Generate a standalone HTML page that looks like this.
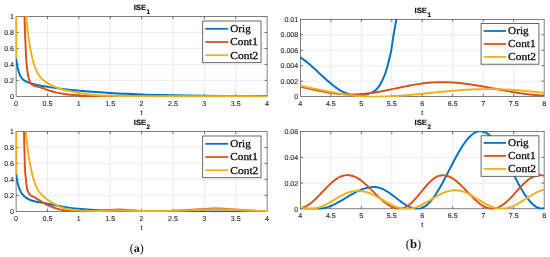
<!DOCTYPE html>
<html><head><meta charset="utf-8"><title>ISE plots</title>
<style>
html,body{margin:0;padding:0;background:#fff;}
svg{display:block;filter:blur(0.35px);}
text{text-rendering:geometricPrecision;}
</style></head><body>
<svg width="550" height="257" viewBox="0 0 550 257">
<rect width="550" height="257" fill="#fff"/>
<g>
<clipPath id="c1"><rect x="15.85" y="16.15" width="252.00" height="81.00"/></clipPath>
<path d="M47.48 16.50 V96.35 M78.85 16.50 V96.35 M110.23 16.50 V96.35 M141.60 16.50 V96.35 M172.98 16.50 V96.35 M204.35 16.50 V96.35 M235.73 16.50 V96.35 M16.10 80.38 H267.10 M16.10 64.41 H267.10 M16.10 48.44 H267.10 M16.10 32.47 H267.10" stroke="#e4e4e4" stroke-width="0.75" fill="none"/>
<rect x="16.10" y="16.50" width="251.00" height="79.85" fill="none" stroke="#3c3c3c" stroke-width="0.65"/>
<path d="M47.48 96.35 v-2.60 M47.48 16.50 v2.60 M78.85 96.35 v-2.60 M78.85 16.50 v2.60 M110.23 96.35 v-2.60 M110.23 16.50 v2.60 M141.60 96.35 v-2.60 M141.60 16.50 v2.60 M172.98 96.35 v-2.60 M172.98 16.50 v2.60 M204.35 96.35 v-2.60 M204.35 16.50 v2.60 M235.73 96.35 v-2.60 M235.73 16.50 v2.60 M16.10 80.38 h2.60 M267.10 80.38 h-2.60 M16.10 64.41 h2.60 M267.10 64.41 h-2.60 M16.10 48.44 h2.60 M267.10 48.44 h-2.60 M16.10 32.47 h2.60 M267.10 32.47 h-2.60" stroke="#3c3c3c" stroke-width="0.7" fill="none"/>
<g clip-path="url(#c1)" fill="none" stroke-width="1.95" stroke-linejoin="round" stroke-linecap="butt">
<path d="M16.15 58.70 C16.44 60.43 17.17 66.18 17.90 69.09 C18.62 72.00 19.48 74.31 20.50 76.16 C21.52 78.01 22.54 79.07 24.00 80.20 C25.46 81.33 27.21 82.17 29.25 82.92 C31.29 83.68 33.19 84.10 36.25 84.74 C39.31 85.38 43.23 86.05 47.60 86.76 C51.98 87.47 57.10 88.31 62.50 88.98 C67.90 89.65 72.08 90.12 80.00 90.80 C87.92 91.47 99.83 92.41 110.00 93.02 C120.17 93.62 131.00 94.08 141.00 94.43 C151.00 94.79 159.50 94.92 170.00 95.14 C180.50 95.36 193.17 95.61 204.00 95.74 C214.83 95.88 224.50 95.90 235.00 95.95 C245.50 96.00 261.67 96.03 267.00 96.05" stroke="#0072BD"/>
<path d="M16.15 58.70 L16.15 10.00 L24.40 10.00 L24.50 16.50  C24.57 18.77 24.72 25.16 24.90 30.13 C25.08 35.09 25.38 41.57 25.60 46.28 C25.82 50.99 25.98 55.03 26.20 58.39 C26.42 61.76 26.65 64.03 26.90 66.47 C27.15 68.91 27.37 70.98 27.70 73.03 C28.03 75.08 28.50 77.22 28.90 78.79 C29.30 80.35 29.68 81.49 30.10 82.42 C30.52 83.34 30.92 83.87 31.40 84.34 C31.88 84.81 32.40 84.98 33.00 85.25 C33.60 85.51 34.25 85.72 35.00 85.95 C35.75 86.19 36.12 86.27 37.50 86.66 C38.88 87.05 41.62 87.72 43.30 88.27 C44.98 88.83 45.57 89.30 47.60 89.99 C49.63 90.68 52.43 91.69 55.50 92.41 C58.57 93.14 61.92 93.81 66.00 94.33 C70.08 94.85 74.33 95.24 80.00 95.54 C85.67 95.85 68.83 96.01 100.00 96.15 C131.17 96.28 239.17 96.32 267.00 96.35" stroke="#D95319"/>
<path d="M16.15 58.70 L16.15 10.00 L25.90 10.00 L26.30 16.50  C26.45 18.10 26.93 23.45 27.20 26.09 C27.47 28.73 27.37 28.58 27.90 32.35 C28.43 36.12 29.62 44.19 30.40 48.70 C31.18 53.21 31.77 56.15 32.60 59.40 C33.43 62.66 34.35 65.59 35.40 68.24 C36.45 70.89 37.59 73.34 38.90 75.30 C40.21 77.26 41.80 78.69 43.25 80.00 C44.70 81.30 45.85 82.07 47.60 83.13 C49.35 84.19 51.27 85.30 53.75 86.36 C56.23 87.42 59.58 88.64 62.50 89.49 C65.42 90.33 68.33 90.78 71.25 91.40 C74.17 92.03 76.04 92.63 80.00 93.22 C83.96 93.81 90.00 94.52 95.00 94.94 C100.00 95.36 104.17 95.54 110.00 95.74 C115.83 95.95 103.83 96.05 130.00 96.15 C156.17 96.25 244.17 96.32 267.00 96.35" stroke="#EDB120"/>
</g>
<g font-family="'Liberation Sans', Arial, sans-serif" font-size="7.1" fill="#242424" stroke="#242424" stroke-width="0.1">
<text x="16.10" y="105.70" text-anchor="middle">0</text>
<text x="47.48" y="105.70" text-anchor="middle">0.5</text>
<text x="78.85" y="105.70" text-anchor="middle">1</text>
<text x="110.23" y="105.70" text-anchor="middle">1.5</text>
<text x="141.60" y="105.70" text-anchor="middle">2</text>
<text x="172.98" y="105.70" text-anchor="middle">2.5</text>
<text x="204.35" y="105.70" text-anchor="middle">3</text>
<text x="235.73" y="105.70" text-anchor="middle">3.5</text>
<text x="267.10" y="105.70" text-anchor="middle">4</text>
<text x="14.00" y="99.05" text-anchor="end">0</text>
<text x="14.00" y="83.08" text-anchor="end">0.2</text>
<text x="14.00" y="67.11" text-anchor="end">0.4</text>
<text x="14.00" y="51.14" text-anchor="end">0.6</text>
<text x="14.00" y="35.17" text-anchor="end">0.8</text>
<text x="14.00" y="19.20" text-anchor="end">1</text>
<text x="141.60" y="115.00" text-anchor="middle">t</text>
</g>
<text x="133.70" y="10.10" font-family="'Liberation Sans', Arial, sans-serif" font-weight="bold" font-size="7.7" fill="#111" stroke="#111" stroke-width="0.15">ISE<tspan font-size="6.4" dx="0.4" dy="3.5">1</tspan></text>
<rect x="202.70" y="21.00" width="58.30" height="41.70" fill="#fff" stroke="#444" stroke-width="0.8"/>
<path d="M205.30 28.80 H228.20" stroke="#0072BD" stroke-width="1.75"/>
<text x="230.30" y="32.10" font-family="'Liberation Serif', 'DejaVu Serif', serif" font-size="10.6" fill="#0d0d0d" stroke="#0d0d0d" stroke-width="0.28" textLength="20.5" lengthAdjust="spacingAndGlyphs">Orig</text>
<path d="M205.30 42.00 H228.20" stroke="#D95319" stroke-width="1.75"/>
<text x="230.30" y="45.30" font-family="'Liberation Serif', 'DejaVu Serif', serif" font-size="10.6" fill="#0d0d0d" stroke="#0d0d0d" stroke-width="0.28" textLength="27.5" lengthAdjust="spacingAndGlyphs">Cont1</text>
<path d="M205.30 55.20 H228.20" stroke="#EDB120" stroke-width="1.75"/>
<text x="230.30" y="58.50" font-family="'Liberation Serif', 'DejaVu Serif', serif" font-size="10.6" fill="#0d0d0d" stroke="#0d0d0d" stroke-width="0.28" textLength="28.0" lengthAdjust="spacingAndGlyphs">Cont2</text>
</g>
<g>
<clipPath id="c2"><rect x="15.85" y="131.15" width="252.00" height="81.00"/></clipPath>
<path d="M47.48 131.50 V211.35 M78.85 131.50 V211.35 M110.23 131.50 V211.35 M141.60 131.50 V211.35 M172.98 131.50 V211.35 M204.35 131.50 V211.35 M235.73 131.50 V211.35 M16.10 195.38 H267.10 M16.10 179.41 H267.10 M16.10 163.44 H267.10 M16.10 147.47 H267.10" stroke="#e4e4e4" stroke-width="0.75" fill="none"/>
<rect x="16.10" y="131.50" width="251.00" height="79.85" fill="none" stroke="#3c3c3c" stroke-width="0.65"/>
<path d="M47.48 211.35 v-2.60 M47.48 131.50 v2.60 M78.85 211.35 v-2.60 M78.85 131.50 v2.60 M110.23 211.35 v-2.60 M110.23 131.50 v2.60 M141.60 211.35 v-2.60 M141.60 131.50 v2.60 M172.98 211.35 v-2.60 M172.98 131.50 v2.60 M204.35 211.35 v-2.60 M204.35 131.50 v2.60 M235.73 211.35 v-2.60 M235.73 131.50 v2.60 M16.10 195.38 h2.60 M267.10 195.38 h-2.60 M16.10 179.41 h2.60 M267.10 179.41 h-2.60 M16.10 163.44 h2.60 M267.10 163.44 h-2.60 M16.10 147.47 h2.60 M267.10 147.47 h-2.60" stroke="#3c3c3c" stroke-width="0.7" fill="none"/>
<g clip-path="url(#c2)" fill="none" stroke-width="1.95" stroke-linejoin="round" stroke-linecap="butt">
<path d="M16.15 174.19 C16.39 175.61 16.88 179.85 17.60 182.72 C18.33 185.60 19.52 189.34 20.50 191.46 C21.48 193.59 22.33 194.28 23.50 195.48 C24.67 196.69 26.17 197.86 27.50 198.69 C28.83 199.53 29.83 199.95 31.50 200.50 C33.17 201.05 35.25 201.56 37.50 202.01 C39.75 202.46 41.93 202.65 45.00 203.21 C48.07 203.78 52.27 204.73 55.90 205.42 C59.53 206.12 63.17 206.83 66.80 207.38 C70.43 207.94 74.07 208.38 77.70 208.74 C81.33 209.10 84.97 209.31 88.60 209.54 C92.23 209.78 94.27 209.96 99.50 210.14 C104.73 210.33 113.08 210.53 120.00 210.65 C126.92 210.76 132.67 210.80 141.00 210.85 C149.33 210.90 161.83 210.91 170.00 210.95 C178.17 210.98 184.17 210.98 190.00 211.05 C195.83 211.12 200.00 211.28 205.00 211.35 C210.00 211.42 215.00 211.45 220.00 211.45 C225.00 211.45 230.00 211.42 235.00 211.35 C240.00 211.28 244.67 211.12 250.00 211.05 C255.33 210.98 264.17 210.96 267.00 210.95" stroke="#0072BD"/>
<path d="M16.15 174.19 L16.15 125.00 L23.70 125.00 L24.00 131.50  C24.15 137.44 24.61 159.46 24.90 167.16 C25.19 174.86 25.40 174.19 25.75 177.70 C26.10 181.22 26.48 185.61 27.00 188.25 C27.52 190.89 28.23 192.29 28.90 193.52 C29.57 194.75 29.77 194.84 31.00 195.63 C32.23 196.43 34.50 197.30 36.25 198.29 C38.00 199.29 40.04 200.69 41.50 201.61 C42.96 202.53 43.50 203.03 45.00 203.82 C46.50 204.60 48.68 205.57 50.50 206.33 C52.32 207.08 54.08 207.75 55.90 208.34 C57.72 208.92 59.58 209.46 61.40 209.84 C63.22 210.23 64.08 210.41 66.80 210.65 C69.52 210.88 74.07 211.15 77.70 211.25 C81.33 211.35 84.97 211.32 88.60 211.25 C92.23 211.18 96.27 211.02 99.50 210.85 C102.73 210.68 104.75 210.46 108.00 210.25 C111.25 210.03 115.33 209.56 119.00 209.54 C122.67 209.53 126.33 209.93 130.00 210.14 C133.67 210.36 136.00 210.70 141.00 210.85 C146.00 211.00 153.50 211.12 160.00 211.05 C166.50 210.98 173.33 210.75 180.00 210.45 C186.67 210.14 194.17 209.56 200.00 209.24 C205.83 208.92 210.00 208.55 215.00 208.54 C220.00 208.52 224.17 208.81 230.00 209.14 C235.83 209.48 243.83 210.23 250.00 210.55 C256.17 210.86 264.17 210.96 267.00 211.05" stroke="#D95319"/>
<path d="M16.15 174.19 L16.15 125.00 L25.20 125.00 L25.75 131.50  C26.04 134.18 26.81 142.23 27.50 147.57 C28.19 152.91 29.03 158.81 29.90 163.54 C30.77 168.27 31.78 172.41 32.70 175.94 C33.62 179.48 34.35 182.10 35.40 184.73 C36.45 187.37 37.67 189.84 39.00 191.76 C40.33 193.69 42.40 195.28 43.40 196.28 C44.40 197.29 43.82 196.90 45.00 197.79 C46.18 198.68 48.68 200.44 50.50 201.61 C52.32 202.78 54.08 203.87 55.90 204.82 C57.72 205.78 59.58 206.65 61.40 207.33 C63.22 208.02 64.08 208.44 66.80 208.94 C69.52 209.44 74.07 210.03 77.70 210.35 C81.33 210.66 84.88 210.75 88.60 210.85 C92.32 210.95 94.93 211.00 100.00 210.95 C105.07 210.90 112.17 210.55 119.00 210.55 C125.83 210.55 134.17 210.86 141.00 210.95 C147.83 211.03 153.50 211.10 160.00 211.05 C166.50 211.00 173.33 210.86 180.00 210.65 C186.67 210.43 194.17 209.98 200.00 209.74 C205.83 209.51 210.00 209.27 215.00 209.24 C220.00 209.21 224.17 209.32 230.00 209.54 C235.83 209.76 243.83 210.31 250.00 210.55 C256.17 210.78 264.17 210.88 267.00 210.95" stroke="#EDB120"/>
</g>
<g font-family="'Liberation Sans', Arial, sans-serif" font-size="7.1" fill="#242424" stroke="#242424" stroke-width="0.1">
<text x="16.10" y="220.90" text-anchor="middle">0</text>
<text x="47.48" y="220.90" text-anchor="middle">0.5</text>
<text x="78.85" y="220.90" text-anchor="middle">1</text>
<text x="110.23" y="220.90" text-anchor="middle">1.5</text>
<text x="141.60" y="220.90" text-anchor="middle">2</text>
<text x="172.98" y="220.90" text-anchor="middle">2.5</text>
<text x="204.35" y="220.90" text-anchor="middle">3</text>
<text x="235.73" y="220.90" text-anchor="middle">3.5</text>
<text x="267.10" y="220.90" text-anchor="middle">4</text>
<text x="14.00" y="214.05" text-anchor="end">0</text>
<text x="14.00" y="198.08" text-anchor="end">0.2</text>
<text x="14.00" y="182.11" text-anchor="end">0.4</text>
<text x="14.00" y="166.14" text-anchor="end">0.6</text>
<text x="14.00" y="150.17" text-anchor="end">0.8</text>
<text x="14.00" y="134.20" text-anchor="end">1</text>
<text x="141.60" y="230.20" text-anchor="middle">t</text>
</g>
<text x="133.80" y="125.10" font-family="'Liberation Sans', Arial, sans-serif" font-weight="bold" font-size="7.7" fill="#111" stroke="#111" stroke-width="0.15">ISE<tspan font-size="6.4" dx="0.4" dy="3.5">2</tspan></text>
<rect x="202.70" y="136.00" width="58.30" height="41.70" fill="#fff" stroke="#444" stroke-width="0.8"/>
<path d="M205.30 143.80 H228.20" stroke="#0072BD" stroke-width="1.75"/>
<text x="230.30" y="147.10" font-family="'Liberation Serif', 'DejaVu Serif', serif" font-size="10.6" fill="#0d0d0d" stroke="#0d0d0d" stroke-width="0.28" textLength="20.5" lengthAdjust="spacingAndGlyphs">Orig</text>
<path d="M205.30 157.00 H228.20" stroke="#D95319" stroke-width="1.75"/>
<text x="230.30" y="160.30" font-family="'Liberation Serif', 'DejaVu Serif', serif" font-size="10.6" fill="#0d0d0d" stroke="#0d0d0d" stroke-width="0.28" textLength="27.5" lengthAdjust="spacingAndGlyphs">Cont1</text>
<path d="M205.30 170.20 H228.20" stroke="#EDB120" stroke-width="1.75"/>
<text x="230.30" y="173.50" font-family="'Liberation Serif', 'DejaVu Serif', serif" font-size="10.6" fill="#0d0d0d" stroke="#0d0d0d" stroke-width="0.28" textLength="28.0" lengthAdjust="spacingAndGlyphs">Cont2</text>
</g>
<g>
<clipPath id="c3"><rect x="300.10" y="18.95" width="244.80" height="78.50"/></clipPath>
<path d="M330.83 19.30 V96.65 M361.30 19.30 V96.65 M391.77 19.30 V96.65 M422.25 19.30 V96.65 M452.73 19.30 V96.65 M483.20 19.30 V96.65 M513.67 19.30 V96.65 M300.35 81.18 H544.15 M300.35 65.71 H544.15 M300.35 50.24 H544.15 M300.35 34.77 H544.15" stroke="#e4e4e4" stroke-width="0.75" fill="none"/>
<rect x="300.35" y="19.30" width="243.80" height="77.35" fill="none" stroke="#3c3c3c" stroke-width="0.65"/>
<path d="M330.83 96.65 v-2.60 M330.83 19.30 v2.60 M361.30 96.65 v-2.60 M361.30 19.30 v2.60 M391.77 96.65 v-2.60 M391.77 19.30 v2.60 M422.25 96.65 v-2.60 M422.25 19.30 v2.60 M452.73 96.65 v-2.60 M452.73 19.30 v2.60 M483.20 96.65 v-2.60 M483.20 19.30 v2.60 M513.67 96.65 v-2.60 M513.67 19.30 v2.60 M300.35 81.18 h2.60 M544.15 81.18 h-2.60 M300.35 65.71 h2.60 M544.15 65.71 h-2.60 M300.35 50.24 h2.60 M544.15 50.24 h-2.60 M300.35 34.77 h2.60 M544.15 34.77 h-2.60" stroke="#3c3c3c" stroke-width="0.7" fill="none"/>
<g clip-path="url(#c3)" fill="none" stroke-width="1.95" stroke-linejoin="round" stroke-linecap="butt">
<path d="M300.35 57.30 C300.55 57.44 301.16 57.84 301.57 58.12 C301.98 58.40 302.38 58.69 302.79 58.98 C303.19 59.27 303.60 59.57 304.01 59.87 C304.41 60.18 304.82 60.49 305.23 60.80 C305.63 61.12 306.04 61.44 306.44 61.77 C306.85 62.09 307.26 62.42 307.66 62.76 C308.07 63.09 308.48 63.44 308.88 63.78 C309.29 64.12 309.70 64.47 310.10 64.83 C310.51 65.18 310.91 65.53 311.32 65.89 C311.73 66.25 312.13 66.62 312.54 66.98 C312.95 67.35 313.35 67.71 313.76 68.08 C314.17 68.45 314.57 68.83 314.98 69.20 C315.38 69.58 315.79 69.95 316.20 70.33 C316.60 70.71 317.01 71.08 317.42 71.46 C317.82 71.84 318.23 72.22 318.63 72.60 C319.04 72.98 319.45 73.36 319.85 73.74 C320.26 74.13 320.67 74.51 321.07 74.88 C321.48 75.26 321.89 75.64 322.29 76.02 C322.70 76.40 323.10 76.77 323.51 77.15 C323.92 77.52 324.32 77.89 324.73 78.26 C325.14 78.63 325.54 79.00 325.95 79.37 C326.36 79.73 326.76 80.10 327.17 80.46 C327.57 80.81 327.98 81.17 328.39 81.52 C328.79 81.88 329.20 82.22 329.61 82.57 C330.01 82.91 330.42 83.25 330.83 83.59 C331.23 83.92 331.64 84.26 332.04 84.58 C332.45 84.91 332.86 85.23 333.26 85.55 C333.67 85.86 334.08 86.17 334.48 86.48 C334.89 86.78 335.29 87.08 335.70 87.37 C336.11 87.66 336.51 87.95 336.92 88.23 C337.33 88.51 337.73 88.78 338.14 89.04 C338.55 89.31 338.95 89.57 339.36 89.82 C339.76 90.07 340.17 90.31 340.58 90.55 C340.98 90.79 341.39 91.02 341.80 91.24 C342.20 91.46 342.61 91.67 343.02 91.87 C343.42 92.08 343.83 92.27 344.23 92.46 C344.64 92.65 345.05 92.83 345.45 93.00 C345.86 93.17 346.27 93.33 346.67 93.48 C347.08 93.63 347.48 93.78 347.89 93.91 C348.30 94.04 348.70 94.17 349.11 94.29 C349.52 94.40 349.92 94.51 350.33 94.60 C350.74 94.70 351.14 94.79 351.55 94.87 C351.95 94.94 352.36 95.01 352.77 95.07 C353.17 95.13 353.58 95.18 353.99 95.22 C354.39 95.26 354.80 95.29 355.21 95.31 C355.61 95.33 355.09 95.40 356.42 95.34 C357.76 95.27 361.07 95.20 363.20 94.89 C365.33 94.59 367.47 94.02 369.20 93.49 C370.93 92.95 372.13 92.65 373.60 91.68 C375.07 90.71 376.63 89.37 378.00 87.67 C379.37 85.96 380.55 83.93 381.80 81.44 C383.05 78.95 384.45 75.64 385.50 72.71 C386.55 69.78 387.32 66.80 388.10 63.87 C388.88 60.94 389.67 57.43 390.20 55.14 C390.73 52.85 390.72 53.60 391.30 50.12 C391.88 46.64 392.86 39.38 393.70 34.26 C394.54 29.14 395.63 23.44 396.35 19.40 C397.07 15.36 397.73 11.57 398.00 10.00" stroke="#0072BD"/>
<path d="M300.35 86.65 C300.60 86.71 301.37 86.88 301.87 86.99 C302.38 87.10 302.89 87.21 303.40 87.33 C303.91 87.44 304.41 87.55 304.92 87.67 C305.43 87.78 305.94 87.90 306.44 88.01 C306.95 88.13 307.46 88.24 307.97 88.36 C308.48 88.47 308.98 88.59 309.49 88.70 C310.00 88.81 310.51 88.93 311.02 89.04 C311.52 89.16 312.03 89.27 312.54 89.38 C313.05 89.49 313.56 89.61 314.06 89.72 C314.57 89.83 315.08 89.94 315.59 90.05 C316.10 90.16 316.60 90.27 317.11 90.38 C317.62 90.48 318.13 90.59 318.63 90.70 C319.14 90.80 319.65 90.91 320.16 91.01 C320.67 91.11 321.17 91.21 321.68 91.31 C322.19 91.41 322.70 91.51 323.21 91.61 C323.71 91.70 324.22 91.80 324.73 91.89 C325.24 91.98 325.75 92.07 326.25 92.16 C326.76 92.25 327.27 92.34 327.78 92.42 C328.29 92.51 328.79 92.59 329.30 92.67 C329.81 92.75 330.32 92.83 330.83 92.91 C331.33 92.98 331.84 93.06 332.35 93.13 C332.86 93.20 333.36 93.27 333.87 93.34 C334.38 93.40 334.89 93.47 335.40 93.53 C335.90 93.59 336.41 93.65 336.92 93.70 C337.43 93.76 337.94 93.81 338.44 93.86 C338.95 93.91 339.46 93.96 339.97 94.00 C340.48 94.04 340.98 94.09 341.49 94.12 C342.00 94.16 342.51 94.20 343.02 94.23 C343.52 94.26 344.03 94.29 344.54 94.32 C345.05 94.34 345.55 94.37 346.06 94.39 C346.57 94.41 347.08 94.42 347.59 94.44 C348.09 94.45 348.60 94.46 349.11 94.47 C349.62 94.48 350.13 94.48 350.63 94.48 C351.14 94.49 351.65 94.48 352.16 94.48 C352.67 94.47 353.17 94.47 353.68 94.46 C354.19 94.45 354.70 94.43 355.21 94.42 C355.71 94.40 356.22 94.38 356.73 94.36 C357.24 94.34 357.74 94.31 358.25 94.29 C358.76 94.26 359.27 94.23 359.78 94.20 C360.28 94.16 360.79 94.13 361.30 94.09 C361.81 94.05 362.32 94.01 362.82 93.96 C363.33 93.92 363.84 93.87 364.35 93.83 C364.86 93.78 365.36 93.73 365.87 93.67 C366.38 93.62 366.89 93.56 367.39 93.50 C367.90 93.44 368.41 93.38 368.92 93.32 C369.43 93.25 369.93 93.19 370.44 93.12 C370.95 93.05 371.46 92.98 371.97 92.91 C372.47 92.83 372.98 92.76 373.49 92.68 C374.00 92.61 374.51 92.53 375.01 92.45 C375.52 92.37 376.03 92.28 376.54 92.20 C377.05 92.11 377.55 92.03 378.06 91.94 C378.57 91.85 379.08 91.76 379.58 91.67 C380.09 91.58 380.60 91.49 381.11 91.39 C381.62 91.30 382.12 91.20 382.63 91.10 C383.14 91.01 383.65 90.91 384.16 90.81 C384.66 90.71 385.17 90.61 385.68 90.51 C386.19 90.40 386.70 90.30 387.20 90.20 C387.71 90.09 388.22 89.99 388.73 89.88 C389.24 89.78 389.74 89.67 390.25 89.57 C390.76 89.46 391.27 89.35 391.77 89.25 C392.28 89.14 392.79 89.03 393.30 88.92 C393.81 88.81 394.31 88.70 394.82 88.60 C395.33 88.49 395.84 88.38 396.35 88.27 C396.85 88.16 397.36 88.05 397.87 87.94 C398.38 87.84 398.89 87.73 399.39 87.62 C399.90 87.51 400.41 87.40 400.92 87.30 C401.43 87.19 401.93 87.08 402.44 86.98 C402.95 86.87 403.46 86.76 403.97 86.66 C404.47 86.55 404.98 86.45 405.49 86.35 C406.00 86.25 406.50 86.14 407.01 86.04 C407.52 85.94 408.03 85.84 408.54 85.74 C409.04 85.64 409.55 85.55 410.06 85.45 C410.57 85.35 411.08 85.26 411.58 85.17 C412.09 85.07 412.60 84.98 413.11 84.89 C413.62 84.80 414.12 84.71 414.63 84.63 C415.14 84.54 415.65 84.45 416.16 84.37 C416.66 84.29 417.17 84.21 417.68 84.13 C418.19 84.05 418.69 83.97 419.20 83.90 C419.71 83.82 420.22 83.75 420.73 83.68 C421.23 83.60 421.74 83.54 422.25 83.47 C422.76 83.40 423.27 83.34 423.77 83.28 C424.28 83.22 424.79 83.16 425.30 83.10 C425.81 83.04 426.31 82.99 426.82 82.93 C427.33 82.88 427.84 82.83 428.34 82.79 C428.85 82.74 429.36 82.70 429.87 82.65 C430.38 82.61 430.88 82.57 431.39 82.54 C431.90 82.50 432.41 82.47 432.92 82.44 C433.42 82.41 433.93 82.38 434.44 82.35 C434.95 82.33 435.46 82.30 435.96 82.29 C436.47 82.27 436.98 82.25 437.49 82.24 C438.00 82.22 438.50 82.21 439.01 82.20 C439.52 82.19 440.03 82.19 440.53 82.19 C441.04 82.18 441.55 82.19 442.06 82.19 C442.57 82.19 443.07 82.20 443.58 82.20 C444.09 82.21 444.60 82.22 445.11 82.23 C445.61 82.24 446.12 82.25 446.63 82.27 C447.14 82.28 447.65 82.30 448.15 82.32 C448.66 82.34 449.17 82.36 449.68 82.39 C450.19 82.41 450.69 82.43 451.20 82.46 C451.71 82.49 452.22 82.52 452.73 82.55 C453.23 82.58 453.74 82.62 454.25 82.65 C454.76 82.69 455.26 82.73 455.77 82.77 C456.28 82.81 456.79 82.85 457.30 82.89 C457.80 82.94 458.31 82.98 458.82 83.03 C459.33 83.08 459.84 83.13 460.34 83.18 C460.85 83.23 461.36 83.28 461.87 83.34 C462.38 83.39 462.88 83.45 463.39 83.51 C463.90 83.56 464.41 83.62 464.91 83.69 C465.42 83.75 465.93 83.81 466.44 83.87 C466.95 83.94 467.45 84.01 467.96 84.07 C468.47 84.14 468.98 84.21 469.49 84.28 C469.99 84.35 470.50 84.43 471.01 84.50 C471.52 84.57 472.03 84.65 472.53 84.73 C473.04 84.80 473.55 84.88 474.06 84.96 C474.57 85.04 475.07 85.12 475.58 85.20 C476.09 85.28 476.60 85.37 477.11 85.45 C477.61 85.53 478.12 85.62 478.63 85.70 C479.14 85.79 479.64 85.88 480.15 85.97 C480.66 86.05 481.17 86.14 481.68 86.23 C482.18 86.32 482.69 86.41 483.20 86.50 C483.71 86.59 484.22 86.69 484.72 86.78 C485.23 86.87 485.74 86.97 486.25 87.06 C486.76 87.15 487.26 87.25 487.77 87.34 C488.28 87.44 488.79 87.53 489.29 87.63 C489.80 87.73 490.31 87.82 490.82 87.92 C491.33 88.02 491.83 88.11 492.34 88.21 C492.85 88.31 493.36 88.41 493.87 88.50 C494.37 88.60 494.88 88.70 495.39 88.80 C495.90 88.90 496.41 88.99 496.91 89.09 C497.42 89.19 497.93 89.29 498.44 89.38 C498.95 89.48 499.45 89.58 499.96 89.68 C500.47 89.77 500.98 89.87 501.49 89.97 C501.99 90.06 502.50 90.16 503.01 90.26 C503.52 90.35 504.02 90.45 504.53 90.54 C505.04 90.64 505.55 90.73 506.06 90.83 C506.56 90.92 507.07 91.01 507.58 91.11 C508.09 91.20 508.60 91.29 509.10 91.38 C509.61 91.47 510.12 91.56 510.63 91.65 C511.14 91.74 511.64 91.83 512.15 91.92 C512.66 92.01 513.17 92.09 513.67 92.18 C514.18 92.26 514.69 92.35 515.20 92.43 C515.71 92.51 516.21 92.60 516.72 92.68 C517.23 92.76 517.74 92.84 518.25 92.92 C518.75 93.00 519.26 93.07 519.77 93.15 C520.28 93.23 520.79 93.30 521.29 93.37 C521.80 93.45 522.31 93.52 522.82 93.59 C523.33 93.66 523.83 93.73 524.34 93.80 C524.85 93.86 525.36 93.93 525.87 93.99 C526.37 94.06 526.88 94.12 527.39 94.18 C527.90 94.24 528.40 94.30 528.91 94.36 C529.42 94.42 529.93 94.47 530.44 94.53 C530.94 94.58 531.45 94.63 531.96 94.68 C532.47 94.73 532.98 94.78 533.48 94.83 C533.99 94.88 534.50 94.92 535.01 94.96 C535.52 95.01 536.02 95.05 536.53 95.09 C537.04 95.13 537.55 95.16 538.06 95.20 C538.56 95.23 539.07 95.27 539.58 95.30 C540.09 95.33 540.59 95.36 541.10 95.38 C541.61 95.41 542.12 95.44 542.63 95.46 C543.13 95.48 543.90 95.51 544.15 95.52" stroke="#D95319"/>
<path d="M300.35 85.81 C300.60 85.86 301.37 86.00 301.87 86.10 C302.38 86.20 302.89 86.30 303.40 86.40 C303.91 86.50 304.41 86.61 304.92 86.71 C305.43 86.81 305.94 86.91 306.44 87.02 C306.95 87.12 307.46 87.22 307.97 87.33 C308.48 87.43 308.98 87.54 309.49 87.64 C310.00 87.75 310.51 87.85 311.02 87.96 C311.52 88.06 312.03 88.17 312.54 88.28 C313.05 88.38 313.56 88.49 314.06 88.60 C314.57 88.70 315.08 88.81 315.59 88.92 C316.10 89.02 316.60 89.13 317.11 89.23 C317.62 89.34 318.13 89.45 318.63 89.55 C319.14 89.66 319.65 89.77 320.16 89.87 C320.67 89.98 321.17 90.08 321.68 90.19 C322.19 90.29 322.70 90.40 323.21 90.50 C323.71 90.61 324.22 90.71 324.73 90.81 C325.24 90.92 325.75 91.02 326.25 91.12 C326.76 91.22 327.27 91.33 327.78 91.43 C328.29 91.53 328.79 91.63 329.30 91.73 C329.81 91.83 330.32 91.92 330.83 92.02 C331.33 92.12 331.84 92.22 332.35 92.31 C332.86 92.41 333.36 92.50 333.87 92.60 C334.38 92.69 334.89 92.78 335.40 92.87 C335.90 92.97 336.41 93.06 336.92 93.15 C337.43 93.23 337.94 93.32 338.44 93.41 C338.95 93.50 339.46 93.58 339.97 93.67 C340.48 93.75 340.98 93.83 341.49 93.91 C342.00 94.00 342.51 94.08 343.02 94.15 C343.52 94.23 344.03 94.31 344.54 94.38 C345.05 94.46 345.55 94.53 346.06 94.61 C346.57 94.68 347.08 94.75 347.59 94.82 C348.09 94.89 348.60 94.95 349.11 95.02 C349.62 95.08 350.13 95.15 350.63 95.21 C351.14 95.27 351.65 95.33 352.16 95.39 C352.67 95.45 353.17 95.51 353.68 95.56 C354.19 95.61 354.70 95.67 355.21 95.72 C355.71 95.77 356.22 95.82 356.73 95.86 C357.24 95.91 357.74 95.96 358.25 96.00 C358.76 96.04 359.27 96.08 359.78 96.12 C360.28 96.16 360.79 96.20 361.30 96.23 C361.81 96.27 362.32 96.30 362.82 96.33 C363.33 96.36 363.84 96.39 364.35 96.41 C364.86 96.44 365.36 96.46 365.87 96.49 C366.38 96.51 366.89 96.53 367.39 96.54 C367.90 96.56 368.41 96.58 368.92 96.59 C369.43 96.60 369.93 96.61 370.44 96.62 C370.95 96.63 371.46 96.64 371.97 96.64 C372.47 96.65 372.98 96.65 373.49 96.65 C374.00 96.65 374.51 96.65 375.01 96.65 C375.52 96.64 376.03 96.64 376.54 96.64 C377.05 96.63 377.55 96.63 378.06 96.62 C378.57 96.61 379.08 96.61 379.58 96.60 C380.09 96.59 380.60 96.58 381.11 96.57 C381.62 96.56 382.12 96.55 382.63 96.53 C383.14 96.52 383.65 96.51 384.16 96.49 C384.66 96.48 385.17 96.46 385.68 96.44 C386.19 96.43 386.70 96.41 387.20 96.39 C387.71 96.37 388.22 96.35 388.73 96.33 C389.24 96.31 389.74 96.29 390.25 96.26 C390.76 96.24 391.27 96.22 391.77 96.19 C392.28 96.17 392.79 96.14 393.30 96.12 C393.81 96.09 394.31 96.06 394.82 96.03 C395.33 96.00 395.84 95.97 396.35 95.94 C396.85 95.91 397.36 95.88 397.87 95.85 C398.38 95.82 398.89 95.79 399.39 95.75 C399.90 95.72 400.41 95.68 400.92 95.65 C401.43 95.61 401.93 95.58 402.44 95.54 C402.95 95.50 403.46 95.47 403.97 95.43 C404.47 95.39 404.98 95.35 405.49 95.31 C406.00 95.27 406.50 95.23 407.01 95.19 C407.52 95.15 408.03 95.10 408.54 95.06 C409.04 95.02 409.55 94.98 410.06 94.93 C410.57 94.89 411.08 94.84 411.58 94.80 C412.09 94.76 412.60 94.71 413.11 94.66 C413.62 94.62 414.12 94.57 414.63 94.52 C415.14 94.48 415.65 94.43 416.16 94.38 C416.66 94.33 417.17 94.29 417.68 94.24 C418.19 94.19 418.69 94.14 419.20 94.09 C419.71 94.04 420.22 93.99 420.73 93.94 C421.23 93.89 421.74 93.84 422.25 93.79 C422.76 93.74 423.27 93.69 423.77 93.64 C424.28 93.59 424.79 93.54 425.30 93.48 C425.81 93.43 426.31 93.38 426.82 93.33 C427.33 93.28 427.84 93.22 428.34 93.17 C428.85 93.12 429.36 93.07 429.87 93.02 C430.38 92.96 430.88 92.91 431.39 92.86 C431.90 92.81 432.41 92.76 432.92 92.70 C433.42 92.65 433.93 92.60 434.44 92.55 C434.95 92.49 435.46 92.44 435.96 92.39 C436.47 92.34 436.98 92.29 437.49 92.24 C438.00 92.18 438.50 92.13 439.01 92.08 C439.52 92.03 440.03 91.98 440.53 91.93 C441.04 91.88 441.55 91.83 442.06 91.78 C442.57 91.73 443.07 91.68 443.58 91.63 C444.09 91.58 444.60 91.53 445.11 91.48 C445.61 91.43 446.12 91.39 446.63 91.34 C447.14 91.29 447.65 91.24 448.15 91.20 C448.66 91.15 449.17 91.10 449.68 91.06 C450.19 91.01 450.69 90.96 451.20 90.92 C451.71 90.87 452.22 90.83 452.73 90.79 C453.23 90.74 453.74 90.70 454.25 90.66 C454.76 90.61 455.26 90.57 455.77 90.53 C456.28 90.49 456.79 90.45 457.30 90.41 C457.80 90.37 458.31 90.33 458.82 90.29 C459.33 90.25 459.84 90.22 460.34 90.18 C460.85 90.14 461.36 90.11 461.87 90.07 C462.38 90.04 462.88 90.00 463.39 89.97 C463.90 89.93 464.41 89.90 464.91 89.87 C465.42 89.84 465.93 89.81 466.44 89.78 C466.95 89.74 467.45 89.72 467.96 89.69 C468.47 89.66 468.98 89.63 469.49 89.60 C469.99 89.58 470.50 89.55 471.01 89.53 C471.52 89.50 472.03 89.48 472.53 89.45 C473.04 89.43 473.55 89.41 474.06 89.39 C474.57 89.37 475.07 89.35 475.58 89.33 C476.09 89.31 476.60 89.29 477.11 89.28 C477.61 89.26 478.12 89.24 478.63 89.23 C479.14 89.21 479.64 89.20 480.15 89.19 C480.66 89.17 481.17 89.16 481.68 89.15 C482.18 89.14 482.69 89.13 483.20 89.12 C483.71 89.11 484.22 89.11 484.72 89.10 C485.23 89.09 485.74 89.09 486.25 89.08 C486.76 89.08 487.26 89.08 487.77 89.07 C488.28 89.07 488.79 89.07 489.29 89.07 C489.80 89.07 490.31 89.07 490.82 89.07 C491.33 89.08 491.83 89.08 492.34 89.08 C492.85 89.09 493.36 89.09 493.87 89.10 C494.37 89.11 494.88 89.12 495.39 89.13 C495.90 89.14 496.41 89.15 496.91 89.16 C497.42 89.17 497.93 89.18 498.44 89.20 C498.95 89.21 499.45 89.23 499.96 89.25 C500.47 89.26 500.98 89.28 501.49 89.30 C501.99 89.32 502.50 89.34 503.01 89.36 C503.52 89.38 504.02 89.40 504.53 89.42 C505.04 89.45 505.55 89.47 506.06 89.50 C506.56 89.52 507.07 89.55 507.58 89.58 C508.09 89.61 508.60 89.63 509.10 89.66 C509.61 89.69 510.12 89.72 510.63 89.76 C511.14 89.79 511.64 89.82 512.15 89.85 C512.66 89.89 513.17 89.92 513.67 89.96 C514.18 89.99 514.69 90.03 515.20 90.07 C515.71 90.10 516.21 90.14 516.72 90.18 C517.23 90.22 517.74 90.26 518.25 90.30 C518.75 90.34 519.26 90.38 519.77 90.42 C520.28 90.47 520.79 90.51 521.29 90.55 C521.80 90.60 522.31 90.64 522.82 90.69 C523.33 90.73 523.83 90.78 524.34 90.82 C524.85 90.87 525.36 90.92 525.87 90.96 C526.37 91.01 526.88 91.06 527.39 91.11 C527.90 91.16 528.40 91.21 528.91 91.26 C529.42 91.31 529.93 91.36 530.44 91.41 C530.94 91.46 531.45 91.51 531.96 91.56 C532.47 91.62 532.98 91.67 533.48 91.72 C533.99 91.77 534.50 91.83 535.01 91.88 C535.52 91.93 536.02 91.99 536.53 92.04 C537.04 92.09 537.55 92.15 538.06 92.20 C538.56 92.26 539.07 92.31 539.58 92.37 C540.09 92.42 540.59 92.47 541.10 92.53 C541.61 92.58 542.12 92.64 542.63 92.69 C543.13 92.75 543.90 92.83 544.15 92.86" stroke="#EDB120"/>
</g>
<g font-family="'Liberation Sans', Arial, sans-serif" font-size="7.1" fill="#242424" stroke="#242424" stroke-width="0.1">
<text x="300.35" y="105.80" text-anchor="middle">4</text>
<text x="330.83" y="105.80" text-anchor="middle">4.5</text>
<text x="361.30" y="105.80" text-anchor="middle">5</text>
<text x="391.77" y="105.80" text-anchor="middle">5.5</text>
<text x="422.25" y="105.80" text-anchor="middle">6</text>
<text x="452.73" y="105.80" text-anchor="middle">6.5</text>
<text x="483.20" y="105.80" text-anchor="middle">7</text>
<text x="513.67" y="105.80" text-anchor="middle">7.5</text>
<text x="544.15" y="105.80" text-anchor="middle">8</text>
<text x="298.25" y="99.35" text-anchor="end">0</text>
<text x="298.25" y="83.88" text-anchor="end">0.002</text>
<text x="298.25" y="68.41" text-anchor="end">0.004</text>
<text x="298.25" y="52.94" text-anchor="end">0.006</text>
<text x="298.25" y="37.47" text-anchor="end">0.008</text>
<text x="298.25" y="22.00" text-anchor="end">0.01</text>
<text x="422.25" y="115.00" text-anchor="middle">t</text>
</g>
<text x="414.60" y="13.20" font-family="'Liberation Sans', Arial, sans-serif" font-weight="bold" font-size="7.7" fill="#111" stroke="#111" stroke-width="0.15">ISE<tspan font-size="6.4" dx="0.4" dy="3.5">1</tspan></text>
<rect x="481.10" y="23.50" width="57.80" height="40.70" fill="#fff" stroke="#444" stroke-width="0.8"/>
<path d="M483.70 31.00 H506.10" stroke="#0072BD" stroke-width="1.75"/>
<text x="508.10" y="34.30" font-family="'Liberation Serif', 'DejaVu Serif', serif" font-size="10.6" fill="#0d0d0d" stroke="#0d0d0d" stroke-width="0.28" textLength="20.5" lengthAdjust="spacingAndGlyphs">Orig</text>
<path d="M483.70 44.00 H506.10" stroke="#D95319" stroke-width="1.75"/>
<text x="508.10" y="47.30" font-family="'Liberation Serif', 'DejaVu Serif', serif" font-size="10.6" fill="#0d0d0d" stroke="#0d0d0d" stroke-width="0.28" textLength="27.5" lengthAdjust="spacingAndGlyphs">Cont1</text>
<path d="M483.70 56.90 H506.10" stroke="#EDB120" stroke-width="1.75"/>
<text x="508.10" y="60.20" font-family="'Liberation Serif', 'DejaVu Serif', serif" font-size="10.6" fill="#0d0d0d" stroke="#0d0d0d" stroke-width="0.28" textLength="28.0" lengthAdjust="spacingAndGlyphs">Cont2</text>
</g>
<g>
<clipPath id="c4"><rect x="300.10" y="131.25" width="244.80" height="78.35"/></clipPath>
<path d="M330.83 131.60 V208.80 M361.30 131.60 V208.80 M391.77 131.60 V208.80 M422.25 131.60 V208.80 M452.73 131.60 V208.80 M483.20 131.60 V208.80 M513.67 131.60 V208.80 M300.35 183.07 H544.15 M300.35 157.33 H544.15" stroke="#e4e4e4" stroke-width="0.75" fill="none"/>
<rect x="300.35" y="131.60" width="243.80" height="77.20" fill="none" stroke="#3c3c3c" stroke-width="0.65"/>
<path d="M330.83 208.80 v-2.60 M330.83 131.60 v2.60 M361.30 208.80 v-2.60 M361.30 131.60 v2.60 M391.77 208.80 v-2.60 M391.77 131.60 v2.60 M422.25 208.80 v-2.60 M422.25 131.60 v2.60 M452.73 208.80 v-2.60 M452.73 131.60 v2.60 M483.20 208.80 v-2.60 M483.20 131.60 v2.60 M513.67 208.80 v-2.60 M513.67 131.60 v2.60 M300.35 183.07 h2.60 M544.15 183.07 h-2.60 M300.35 157.33 h2.60 M544.15 157.33 h-2.60" stroke="#3c3c3c" stroke-width="0.7" fill="none"/>
<g clip-path="url(#c4)" fill="none" stroke-width="1.95" stroke-linejoin="round" stroke-linecap="butt">
<path d="M300.35 208.43 C300.60 208.44 301.37 208.46 301.87 208.48 C302.38 208.50 302.89 208.52 303.40 208.54 C303.91 208.55 304.41 208.57 304.92 208.59 C305.43 208.60 305.94 208.62 306.44 208.63 C306.95 208.65 307.46 208.66 307.97 208.67 C308.48 208.69 308.98 208.70 309.49 208.71 C310.00 208.72 310.51 208.73 311.02 208.74 C311.52 208.75 312.03 208.76 312.54 208.77 C313.05 208.77 313.56 208.78 314.06 208.78 C314.57 208.79 315.08 208.79 315.59 208.80 C316.10 208.80 316.60 208.80 317.11 208.80 C317.62 208.80 318.13 208.80 318.63 208.78 C319.14 208.75 319.65 208.72 320.16 208.67 C320.67 208.63 321.17 208.57 321.68 208.50 C322.19 208.43 322.70 208.34 323.21 208.24 C323.71 208.15 324.22 208.04 324.73 207.92 C325.24 207.80 325.75 207.67 326.25 207.52 C326.76 207.38 327.27 207.22 327.78 207.06 C328.29 206.89 328.79 206.71 329.30 206.53 C329.81 206.34 330.32 206.14 330.83 205.93 C331.33 205.73 331.84 205.51 332.35 205.28 C332.86 205.06 333.36 204.82 333.87 204.58 C334.38 204.34 334.89 204.09 335.40 203.83 C335.90 203.58 336.41 203.31 336.92 203.04 C337.43 202.77 337.94 202.50 338.44 202.22 C338.95 201.93 339.46 201.65 339.97 201.36 C340.48 201.07 340.98 200.77 341.49 200.47 C342.00 200.18 342.51 199.88 343.02 199.57 C343.52 199.27 344.03 198.97 344.54 198.66 C345.05 198.36 345.55 198.05 346.06 197.74 C346.57 197.44 347.08 197.13 347.59 196.83 C348.09 196.52 348.60 196.22 349.11 195.92 C349.62 195.62 350.13 195.32 350.63 195.03 C351.14 194.73 351.65 194.44 352.16 194.15 C352.67 193.86 353.17 193.58 353.68 193.31 C354.19 193.03 354.70 192.76 355.21 192.49 C355.71 192.23 356.22 191.97 356.73 191.72 C357.24 191.47 357.74 191.22 358.25 190.99 C358.76 190.75 359.27 190.52 359.78 190.30 C360.28 190.09 360.79 189.88 361.30 189.68 C361.81 189.48 362.32 189.29 362.82 189.11 C363.33 188.93 363.84 188.76 364.35 188.61 C364.86 188.45 365.36 188.30 365.87 188.17 C366.38 188.03 366.89 187.91 367.39 187.80 C367.90 187.69 368.41 187.59 368.92 187.50 C369.43 187.41 369.93 187.34 370.44 187.28 C370.95 187.22 371.46 187.17 371.97 187.13 C372.47 187.10 372.98 187.07 373.49 187.06 C374.00 187.05 374.51 187.05 375.01 187.08 C375.52 187.11 376.03 187.15 376.54 187.22 C377.05 187.29 377.55 187.38 378.06 187.49 C378.57 187.60 379.08 187.73 379.58 187.88 C380.09 188.03 380.60 188.21 381.11 188.40 C381.62 188.59 382.12 188.80 382.63 189.02 C383.14 189.25 383.65 189.49 384.16 189.75 C384.66 190.01 385.17 190.29 385.68 190.58 C386.19 190.87 386.70 191.18 387.20 191.50 C387.71 191.82 388.22 192.15 388.73 192.49 C389.24 192.83 389.74 193.19 390.25 193.55 C390.76 193.91 391.27 194.28 391.77 194.66 C392.28 195.03 392.79 195.42 393.30 195.81 C393.81 196.19 394.31 196.59 394.82 196.98 C395.33 197.37 395.84 197.77 396.35 198.16 C396.85 198.56 397.36 198.96 397.87 199.35 C398.38 199.74 398.89 200.13 399.39 200.51 C399.90 200.90 400.41 201.28 400.92 201.65 C401.43 202.02 401.93 202.38 402.44 202.74 C402.95 203.09 403.46 203.44 403.97 203.77 C404.47 204.10 404.98 204.43 405.49 204.73 C406.00 205.04 406.50 205.34 407.01 205.62 C407.52 205.89 408.03 206.16 408.54 206.41 C409.04 206.65 409.55 206.89 410.06 207.10 C410.57 207.31 411.08 207.50 411.58 207.68 C412.09 207.85 412.60 208.01 413.11 208.14 C413.62 208.28 414.12 208.39 414.63 208.49 C415.14 208.58 415.65 208.66 416.16 208.71 C416.66 208.76 417.17 208.79 417.68 208.80 C418.19 208.80 418.69 208.79 419.20 208.73 C419.71 208.67 420.22 208.57 420.73 208.43 C421.23 208.30 421.74 208.12 422.25 207.91 C422.76 207.70 423.27 207.45 423.77 207.17 C424.28 206.88 424.79 206.56 425.30 206.21 C425.81 205.85 426.31 205.46 426.82 205.03 C427.33 204.61 427.84 204.14 428.34 203.65 C428.85 203.16 429.36 202.63 429.87 202.08 C430.38 201.52 430.88 200.93 431.39 200.31 C431.90 199.69 432.41 199.04 432.92 198.37 C433.42 197.69 433.93 196.99 434.44 196.26 C434.95 195.53 435.46 194.77 435.96 193.99 C436.47 193.22 436.98 192.41 437.49 191.59 C438.00 190.77 438.50 189.92 439.01 189.06 C439.52 188.20 440.03 187.31 440.53 186.42 C441.04 185.52 441.55 184.60 442.06 183.68 C442.57 182.75 443.07 181.81 443.58 180.86 C444.09 179.91 444.60 178.94 445.11 177.98 C445.61 177.01 446.12 176.03 446.63 175.05 C447.14 174.06 447.65 173.08 448.15 172.09 C448.66 171.10 449.17 170.10 449.68 169.12 C450.19 168.13 450.69 167.13 451.20 166.15 C451.71 165.16 452.22 164.18 452.73 163.21 C453.23 162.23 453.74 161.26 454.25 160.30 C454.76 159.34 455.26 158.39 455.77 157.46 C456.28 156.52 456.79 155.59 457.30 154.68 C457.80 153.77 458.31 152.88 458.82 152.00 C459.33 151.12 459.84 150.26 460.34 149.42 C460.85 148.58 461.36 147.76 461.87 146.97 C462.38 146.17 462.88 145.39 463.39 144.64 C463.90 143.89 464.41 143.17 464.91 142.47 C465.42 141.77 465.93 141.10 466.44 140.46 C466.95 139.82 467.45 139.20 467.96 138.62 C468.47 138.04 468.98 137.49 469.49 136.97 C469.99 136.45 470.50 135.96 471.01 135.51 C471.52 135.06 472.03 134.64 472.53 134.25 C473.04 133.87 473.55 133.52 474.06 133.21 C474.57 132.89 475.07 132.61 475.58 132.37 C476.09 132.13 476.60 131.93 477.11 131.76 C477.61 131.60 478.12 131.47 478.63 131.38 C479.14 131.29 479.64 131.23 480.15 131.22 C480.66 131.20 481.17 131.23 481.68 131.29 C482.18 131.35 482.69 131.45 483.20 131.59 C483.71 131.73 484.22 131.91 484.72 132.13 C485.23 132.34 485.74 132.60 486.25 132.89 C486.76 133.18 487.26 133.51 487.77 133.88 C488.28 134.24 488.79 134.64 489.29 135.08 C489.80 135.52 490.31 135.99 490.82 136.49 C491.33 137.00 491.83 137.54 492.34 138.11 C492.85 138.68 493.36 139.29 493.87 139.92 C494.37 140.55 494.88 141.22 495.39 141.91 C495.90 142.60 496.41 143.32 496.91 144.07 C497.42 144.81 497.93 145.59 498.44 146.38 C498.95 147.18 499.45 148.00 499.96 148.84 C500.47 149.68 500.98 150.54 501.49 151.42 C501.99 152.30 502.50 153.20 503.01 154.12 C503.52 155.03 504.02 155.96 504.53 156.91 C505.04 157.85 505.55 158.81 506.06 159.77 C506.56 160.74 507.07 161.72 507.58 162.70 C508.09 163.69 508.60 164.68 509.10 165.68 C509.61 166.67 510.12 167.68 510.63 168.68 C511.14 169.68 511.64 170.68 512.15 171.68 C512.66 172.68 513.17 173.68 513.67 174.68 C514.18 175.67 514.69 176.66 515.20 177.64 C515.71 178.62 516.21 179.60 516.72 180.56 C517.23 181.52 517.74 182.48 518.25 183.42 C518.75 184.35 519.26 185.28 519.77 186.19 C520.28 187.10 520.79 187.99 521.29 188.86 C521.80 189.73 522.31 190.59 522.82 191.42 C523.33 192.25 523.83 193.07 524.34 193.85 C524.85 194.64 525.36 195.40 525.87 196.13 C526.37 196.87 526.88 197.58 527.39 198.26 C527.90 198.94 528.40 199.59 528.91 200.21 C529.42 200.83 529.93 201.43 530.44 201.98 C530.94 202.54 531.45 203.07 531.96 203.56 C532.47 204.05 532.98 204.51 533.48 204.93 C533.99 205.36 534.50 205.74 535.01 206.10 C535.52 206.45 536.02 206.76 536.53 207.04 C537.04 207.31 537.55 207.55 538.06 207.76 C538.56 207.96 539.07 208.12 539.58 208.24 C540.09 208.37 540.59 208.46 541.10 208.50 C541.61 208.55 542.12 208.57 542.63 208.51 C543.13 208.46 543.90 208.24 544.15 208.18" stroke="#0072BD"/>
<path d="M300.35 208.21 C300.60 208.16 301.37 208.02 301.87 207.89 C302.38 207.75 302.89 207.59 303.40 207.41 C303.91 207.23 304.41 207.02 304.92 206.78 C305.43 206.55 305.94 206.30 306.44 206.02 C306.95 205.74 307.46 205.44 307.97 205.12 C308.48 204.80 308.98 204.45 309.49 204.09 C310.00 203.73 310.51 203.35 311.02 202.95 C311.52 202.55 312.03 202.13 312.54 201.70 C313.05 201.27 313.56 200.82 314.06 200.36 C314.57 199.90 315.08 199.42 315.59 198.94 C316.10 198.45 316.60 197.96 317.11 197.45 C317.62 196.95 318.13 196.43 318.63 195.91 C319.14 195.39 319.65 194.86 320.16 194.33 C320.67 193.80 321.17 193.26 321.68 192.72 C322.19 192.18 322.70 191.64 323.21 191.11 C323.71 190.57 324.22 190.03 324.73 189.50 C325.24 188.96 325.75 188.43 326.25 187.91 C326.76 187.39 327.27 186.87 327.78 186.36 C328.29 185.85 328.79 185.35 329.30 184.86 C329.81 184.37 330.32 183.89 330.83 183.42 C331.33 182.95 331.84 182.50 332.35 182.06 C332.86 181.63 333.36 181.20 333.87 180.80 C334.38 180.39 334.89 180.00 335.40 179.63 C335.90 179.26 336.41 178.91 336.92 178.58 C337.43 178.25 337.94 177.94 338.44 177.66 C338.95 177.37 339.46 177.10 339.97 176.86 C340.48 176.62 340.98 176.40 341.49 176.21 C342.00 176.01 342.51 175.84 343.02 175.70 C343.52 175.56 344.03 175.44 344.54 175.34 C345.05 175.25 345.55 175.18 346.06 175.14 C346.57 175.10 347.08 175.08 347.59 175.09 C348.09 175.10 348.60 175.13 349.11 175.19 C349.62 175.25 350.13 175.33 350.63 175.43 C351.14 175.53 351.65 175.65 352.16 175.80 C352.67 175.95 353.17 176.12 353.68 176.31 C354.19 176.50 354.70 176.71 355.21 176.95 C355.71 177.18 356.22 177.44 356.73 177.71 C357.24 177.98 357.74 178.28 358.25 178.59 C358.76 178.90 359.27 179.23 359.78 179.58 C360.28 179.93 360.79 180.30 361.30 180.68 C361.81 181.06 362.32 181.45 362.82 181.86 C363.33 182.27 363.84 182.70 364.35 183.13 C364.86 183.57 365.36 184.02 365.87 184.48 C366.38 184.93 366.89 185.41 367.39 185.88 C367.90 186.36 368.41 186.85 368.92 187.34 C369.43 187.83 369.93 188.33 370.44 188.83 C370.95 189.33 371.46 189.84 371.97 190.35 C372.47 190.86 372.98 191.37 373.49 191.88 C374.00 192.39 374.51 192.90 375.01 193.41 C375.52 193.92 376.03 194.43 376.54 194.93 C377.05 195.43 377.55 195.93 378.06 196.42 C378.57 196.91 379.08 197.40 379.58 197.88 C380.09 198.36 380.60 198.83 381.11 199.28 C381.62 199.74 382.12 200.19 382.63 200.63 C383.14 201.06 383.65 201.49 384.16 201.90 C384.66 202.31 385.17 202.71 385.68 203.09 C386.19 203.47 386.70 203.83 387.20 204.18 C387.71 204.53 388.22 204.86 388.73 205.17 C389.24 205.48 389.74 205.78 390.25 206.05 C390.76 206.32 391.27 206.58 391.77 206.81 C392.28 207.05 392.79 207.26 393.30 207.45 C393.81 207.64 394.31 207.81 394.82 207.96 C395.33 208.11 395.84 208.23 396.35 208.33 C396.85 208.44 397.36 208.51 397.87 208.57 C398.38 208.63 398.89 208.66 399.39 208.67 C399.90 208.67 400.41 208.66 400.92 208.60 C401.43 208.55 401.93 208.46 402.44 208.34 C402.95 208.21 403.46 208.05 403.97 207.86 C404.47 207.67 404.98 207.45 405.49 207.19 C406.00 206.94 406.50 206.65 407.01 206.34 C407.52 206.02 408.03 205.67 408.54 205.30 C409.04 204.93 409.55 204.52 410.06 204.10 C410.57 203.67 411.08 203.22 411.58 202.74 C412.09 202.27 412.60 201.77 413.11 201.26 C413.62 200.74 414.12 200.20 414.63 199.65 C415.14 199.10 415.65 198.53 416.16 197.96 C416.66 197.38 417.17 196.78 417.68 196.18 C418.19 195.58 418.69 194.97 419.20 194.36 C419.71 193.75 420.22 193.12 420.73 192.50 C421.23 191.88 421.74 191.26 422.25 190.64 C422.76 190.02 423.27 189.40 423.77 188.80 C424.28 188.19 424.79 187.58 425.30 186.99 C425.81 186.40 426.31 185.81 426.82 185.24 C427.33 184.68 427.84 184.12 428.34 183.58 C428.85 183.04 429.36 182.52 429.87 182.02 C430.38 181.52 430.88 181.04 431.39 180.59 C431.90 180.13 432.41 179.70 432.92 179.29 C433.42 178.89 433.93 178.51 434.44 178.15 C434.95 177.80 435.46 177.48 435.96 177.19 C436.47 176.90 436.98 176.63 437.49 176.40 C438.00 176.17 438.50 175.98 439.01 175.81 C439.52 175.65 440.03 175.52 440.53 175.42 C441.04 175.32 441.55 175.26 442.06 175.23 C442.57 175.21 443.07 175.22 443.58 175.25 C444.09 175.28 444.60 175.33 445.11 175.42 C445.61 175.50 446.12 175.61 446.63 175.74 C447.14 175.87 447.65 176.03 448.15 176.21 C448.66 176.40 449.17 176.60 449.68 176.83 C450.19 177.06 450.69 177.32 451.20 177.60 C451.71 177.87 452.22 178.17 452.73 178.49 C453.23 178.81 453.74 179.15 454.25 179.51 C454.76 179.87 455.26 180.25 455.77 180.64 C456.28 181.04 456.79 181.45 457.30 181.88 C457.80 182.31 458.31 182.75 458.82 183.21 C459.33 183.67 459.84 184.14 460.34 184.63 C460.85 185.11 461.36 185.60 461.87 186.11 C462.38 186.61 462.88 187.12 463.39 187.64 C463.90 188.16 464.41 188.69 464.91 189.22 C465.42 189.75 465.93 190.28 466.44 190.82 C466.95 191.35 467.45 191.89 467.96 192.43 C468.47 192.96 468.98 193.50 469.49 194.03 C469.99 194.57 470.50 195.10 471.01 195.62 C471.52 196.15 472.03 196.67 472.53 197.17 C473.04 197.68 473.55 198.19 474.06 198.68 C474.57 199.17 475.07 199.65 475.58 200.12 C476.09 200.59 476.60 201.05 477.11 201.49 C477.61 201.93 478.12 202.36 478.63 202.76 C479.14 203.17 479.64 203.57 480.15 203.94 C480.66 204.32 481.17 204.67 481.68 205.01 C482.18 205.34 482.69 205.66 483.20 205.95 C483.71 206.25 484.22 206.52 484.72 206.77 C485.23 207.02 485.74 207.24 486.25 207.44 C486.76 207.65 487.26 207.82 487.77 207.98 C488.28 208.13 488.79 208.26 489.29 208.36 C489.80 208.46 490.31 208.54 490.82 208.59 C491.33 208.65 491.83 208.67 492.34 208.67 C492.85 208.67 493.36 208.64 493.87 208.59 C494.37 208.53 494.88 208.44 495.39 208.33 C495.90 208.22 496.41 208.08 496.91 207.91 C497.42 207.74 497.93 207.55 498.44 207.33 C498.95 207.11 499.45 206.86 499.96 206.59 C500.47 206.32 500.98 206.02 501.49 205.70 C501.99 205.38 502.50 205.03 503.01 204.67 C503.52 204.31 504.02 203.92 504.53 203.51 C505.04 203.11 505.55 202.68 506.06 202.24 C506.56 201.79 507.07 201.33 507.58 200.85 C508.09 200.38 508.60 199.89 509.10 199.38 C509.61 198.88 510.12 198.36 510.63 197.83 C511.14 197.31 511.64 196.77 512.15 196.23 C512.66 195.68 513.17 195.13 513.67 194.57 C514.18 194.02 514.69 193.46 515.20 192.89 C515.71 192.33 516.21 191.77 516.72 191.20 C517.23 190.64 517.74 190.08 518.25 189.52 C518.75 188.96 519.26 188.41 519.77 187.86 C520.28 187.32 520.79 186.77 521.29 186.24 C521.80 185.71 522.31 185.19 522.82 184.68 C523.33 184.17 523.83 183.68 524.34 183.19 C524.85 182.71 525.36 182.24 525.87 181.79 C526.37 181.34 526.88 180.91 527.39 180.50 C527.90 180.08 528.40 179.69 528.91 179.31 C529.42 178.94 529.93 178.59 530.44 178.26 C530.94 177.93 531.45 177.62 531.96 177.34 C532.47 177.06 532.98 176.80 533.48 176.57 C533.99 176.34 534.50 176.13 535.01 175.95 C535.52 175.78 536.02 175.62 536.53 175.50 C537.04 175.38 537.55 175.28 538.06 175.21 C538.56 175.14 539.07 175.10 539.58 175.09 C540.09 175.08 540.59 175.10 541.10 175.15 C541.61 175.19 542.12 175.27 542.63 175.37 C543.13 175.48 543.90 175.71 544.15 175.77" stroke="#D95319"/>
<path d="M300.35 206.89 C300.60 206.97 301.37 207.24 301.87 207.40 C302.38 207.55 302.89 207.70 303.40 207.83 C303.91 207.96 304.41 208.08 304.92 208.19 C305.43 208.29 305.94 208.39 306.44 208.47 C306.95 208.54 307.46 208.61 307.97 208.66 C308.48 208.71 308.98 208.75 309.49 208.77 C310.00 208.80 310.51 208.80 311.02 208.80 C311.52 208.79 312.03 208.77 312.54 208.73 C313.05 208.70 313.56 208.64 314.06 208.57 C314.57 208.51 315.08 208.42 315.59 208.32 C316.10 208.23 316.60 208.11 317.11 207.99 C317.62 207.86 318.13 207.72 318.63 207.56 C319.14 207.41 319.65 207.24 320.16 207.06 C320.67 206.88 321.17 206.68 321.68 206.48 C322.19 206.27 322.70 206.06 323.21 205.83 C323.71 205.60 324.22 205.36 324.73 205.12 C325.24 204.87 325.75 204.61 326.25 204.35 C326.76 204.09 327.27 203.81 327.78 203.53 C328.29 203.26 328.79 202.97 329.30 202.68 C329.81 202.39 330.32 202.10 330.83 201.80 C331.33 201.50 331.84 201.20 332.35 200.89 C332.86 200.59 333.36 200.28 333.87 199.98 C334.38 199.67 334.89 199.36 335.40 199.06 C335.90 198.75 336.41 198.45 336.92 198.15 C337.43 197.85 337.94 197.55 338.44 197.26 C338.95 196.96 339.46 196.67 339.97 196.39 C340.48 196.11 340.98 195.83 341.49 195.56 C342.00 195.29 342.51 195.02 343.02 194.77 C343.52 194.52 344.03 194.27 344.54 194.04 C345.05 193.80 345.55 193.57 346.06 193.36 C346.57 193.15 347.08 192.94 347.59 192.75 C348.09 192.56 348.60 192.38 349.11 192.22 C349.62 192.05 350.13 191.90 350.63 191.76 C351.14 191.62 351.65 191.50 352.16 191.39 C352.67 191.28 353.17 191.18 353.68 191.10 C354.19 191.02 354.70 190.96 355.21 190.91 C355.71 190.86 356.22 190.82 356.73 190.80 C357.24 190.78 357.74 190.78 358.25 190.79 C358.76 190.80 359.27 190.83 359.78 190.87 C360.28 190.91 360.79 190.96 361.30 191.03 C361.81 191.10 362.32 191.18 362.82 191.27 C363.33 191.37 363.84 191.47 364.35 191.59 C364.86 191.71 365.36 191.85 365.87 191.99 C366.38 192.14 366.89 192.30 367.39 192.47 C367.90 192.63 368.41 192.82 368.92 193.01 C369.43 193.20 369.93 193.40 370.44 193.61 C370.95 193.82 371.46 194.05 371.97 194.28 C372.47 194.51 372.98 194.75 373.49 194.99 C374.00 195.24 374.51 195.49 375.01 195.75 C375.52 196.01 376.03 196.28 376.54 196.55 C377.05 196.82 377.55 197.10 378.06 197.38 C378.57 197.66 379.08 197.94 379.58 198.23 C380.09 198.52 380.60 198.81 381.11 199.10 C381.62 199.39 382.12 199.68 382.63 199.97 C383.14 200.26 383.65 200.55 384.16 200.84 C384.66 201.13 385.17 201.42 385.68 201.70 C386.19 201.98 386.70 202.27 387.20 202.54 C387.71 202.82 388.22 203.09 388.73 203.36 C389.24 203.63 389.74 203.89 390.25 204.14 C390.76 204.40 391.27 204.65 391.77 204.89 C392.28 205.13 392.79 205.36 393.30 205.58 C393.81 205.81 394.31 206.02 394.82 206.22 C395.33 206.43 395.84 206.62 396.35 206.80 C396.85 206.99 397.36 207.16 397.87 207.32 C398.38 207.48 398.89 207.63 399.39 207.76 C399.90 207.90 400.41 208.02 400.92 208.13 C401.43 208.24 401.93 208.34 402.44 208.42 C402.95 208.50 403.46 208.58 403.97 208.63 C404.47 208.69 404.98 208.73 405.49 208.76 C406.00 208.79 406.50 208.80 407.01 208.80 C407.52 208.80 408.03 208.78 408.54 208.75 C409.04 208.72 409.55 208.68 410.06 208.62 C410.57 208.56 411.08 208.48 411.58 208.39 C412.09 208.30 412.60 208.20 413.11 208.08 C413.62 207.96 414.12 207.82 414.63 207.68 C415.14 207.53 415.65 207.37 416.16 207.20 C416.66 207.03 417.17 206.84 417.68 206.65 C418.19 206.45 418.69 206.24 419.20 206.02 C419.71 205.80 420.22 205.57 420.73 205.33 C421.23 205.09 421.74 204.84 422.25 204.59 C422.76 204.33 423.27 204.06 423.77 203.79 C424.28 203.52 424.79 203.24 425.30 202.95 C425.81 202.67 426.31 202.38 426.82 202.08 C427.33 201.79 427.84 201.49 428.34 201.18 C428.85 200.88 429.36 200.58 429.87 200.27 C430.38 199.97 430.88 199.66 431.39 199.35 C431.90 199.05 432.41 198.74 432.92 198.43 C433.42 198.13 433.93 197.83 434.44 197.53 C434.95 197.23 435.46 196.93 435.96 196.64 C436.47 196.35 436.98 196.06 437.49 195.78 C438.00 195.50 438.50 195.22 439.01 194.96 C439.52 194.69 440.03 194.43 440.53 194.18 C441.04 193.93 441.55 193.69 442.06 193.46 C442.57 193.23 443.07 193.00 443.58 192.79 C444.09 192.58 444.60 192.38 445.11 192.20 C445.61 192.01 446.12 191.83 446.63 191.67 C447.14 191.51 447.65 191.36 448.15 191.22 C448.66 191.09 449.17 190.97 449.68 190.86 C450.19 190.75 450.69 190.66 451.20 190.58 C451.71 190.50 452.22 190.44 452.73 190.39 C453.23 190.34 453.74 190.31 454.25 190.29 C454.76 190.27 455.26 190.27 455.77 190.28 C456.28 190.29 456.79 190.32 457.30 190.37 C457.80 190.41 458.31 190.48 458.82 190.55 C459.33 190.63 459.84 190.73 460.34 190.83 C460.85 190.94 461.36 191.07 461.87 191.21 C462.38 191.35 462.88 191.50 463.39 191.67 C463.90 191.84 464.41 192.02 464.91 192.21 C465.42 192.41 465.93 192.61 466.44 192.83 C466.95 193.05 467.45 193.28 467.96 193.53 C468.47 193.77 468.98 194.02 469.49 194.28 C469.99 194.54 470.50 194.81 471.01 195.09 C471.52 195.37 472.03 195.66 472.53 195.95 C473.04 196.24 473.55 196.54 474.06 196.85 C474.57 197.15 475.07 197.46 475.58 197.77 C476.09 198.08 476.60 198.40 477.11 198.71 C477.61 199.03 478.12 199.35 478.63 199.66 C479.14 199.98 479.64 200.30 480.15 200.61 C480.66 200.92 481.17 201.24 481.68 201.55 C482.18 201.85 482.69 202.16 483.20 202.46 C483.71 202.76 484.22 203.05 484.72 203.34 C485.23 203.63 485.74 203.91 486.25 204.18 C486.76 204.45 487.26 204.72 487.77 204.97 C488.28 205.22 488.79 205.47 489.29 205.70 C489.80 205.94 490.31 206.16 490.82 206.37 C491.33 206.58 491.83 206.77 492.34 206.96 C492.85 207.14 493.36 207.31 493.87 207.47 C494.37 207.63 494.88 207.77 495.39 207.90 C495.90 208.02 496.41 208.14 496.91 208.23 C497.42 208.33 497.93 208.41 498.44 208.48 C498.95 208.54 499.45 208.59 499.96 208.62 C500.47 208.65 500.98 208.67 501.49 208.67 C501.99 208.67 502.50 208.66 503.01 208.62 C503.52 208.59 504.02 208.54 504.53 208.48 C505.04 208.42 505.55 208.34 506.06 208.24 C506.56 208.15 507.07 208.04 507.58 207.92 C508.09 207.79 508.60 207.65 509.10 207.50 C509.61 207.35 510.12 207.18 510.63 207.00 C511.14 206.82 511.64 206.63 512.15 206.42 C512.66 206.22 513.17 206.00 513.67 205.77 C514.18 205.54 514.69 205.30 515.20 205.05 C515.71 204.80 516.21 204.54 516.72 204.27 C517.23 204.00 517.74 203.72 518.25 203.43 C518.75 203.15 519.26 202.85 519.77 202.56 C520.28 202.26 520.79 201.95 521.29 201.64 C521.80 201.33 522.31 201.01 522.82 200.70 C523.33 200.38 523.83 200.06 524.34 199.74 C524.85 199.41 525.36 199.09 525.87 198.76 C526.37 198.44 526.88 198.12 527.39 197.79 C527.90 197.47 528.40 197.15 528.91 196.83 C529.42 196.51 529.93 196.20 530.44 195.89 C530.94 195.58 531.45 195.27 531.96 194.97 C532.47 194.67 532.98 194.38 533.48 194.09 C533.99 193.81 534.50 193.53 535.01 193.26 C535.52 192.99 536.02 192.73 536.53 192.48 C537.04 192.23 537.55 191.99 538.06 191.76 C538.56 191.53 539.07 191.31 539.58 191.11 C540.09 190.90 540.59 190.71 541.10 190.53 C541.61 190.35 542.12 190.18 542.63 190.03 C543.13 189.87 543.90 189.68 544.15 189.61" stroke="#EDB120"/>
</g>
<g font-family="'Liberation Sans', Arial, sans-serif" font-size="7.1" fill="#242424" stroke="#242424" stroke-width="0.1">
<text x="300.35" y="217.80" text-anchor="middle">4</text>
<text x="330.83" y="217.80" text-anchor="middle">4.5</text>
<text x="361.30" y="217.80" text-anchor="middle">5</text>
<text x="391.77" y="217.80" text-anchor="middle">5.5</text>
<text x="422.25" y="217.80" text-anchor="middle">6</text>
<text x="452.73" y="217.80" text-anchor="middle">6.5</text>
<text x="483.20" y="217.80" text-anchor="middle">7</text>
<text x="513.67" y="217.80" text-anchor="middle">7.5</text>
<text x="544.15" y="217.80" text-anchor="middle">8</text>
<text x="298.25" y="211.50" text-anchor="end">0</text>
<text x="298.25" y="185.77" text-anchor="end">0.02</text>
<text x="298.25" y="160.03" text-anchor="end">0.04</text>
<text x="298.25" y="134.30" text-anchor="end">0.06</text>
<text x="422.25" y="227.30" text-anchor="middle">t</text>
</g>
<text x="414.60" y="125.30" font-family="'Liberation Sans', Arial, sans-serif" font-weight="bold" font-size="7.7" fill="#111" stroke="#111" stroke-width="0.15">ISE<tspan font-size="6.4" dx="0.4" dy="3.5">2</tspan></text>
<rect x="481.10" y="135.80" width="57.80" height="40.50" fill="#fff" stroke="#444" stroke-width="0.8"/>
<path d="M483.70 142.90 H506.10" stroke="#0072BD" stroke-width="1.75"/>
<text x="508.10" y="146.20" font-family="'Liberation Serif', 'DejaVu Serif', serif" font-size="10.6" fill="#0d0d0d" stroke="#0d0d0d" stroke-width="0.28" textLength="20.5" lengthAdjust="spacingAndGlyphs">Orig</text>
<path d="M483.70 155.90 H506.10" stroke="#D95319" stroke-width="1.75"/>
<text x="508.10" y="159.20" font-family="'Liberation Serif', 'DejaVu Serif', serif" font-size="10.6" fill="#0d0d0d" stroke="#0d0d0d" stroke-width="0.28" textLength="27.5" lengthAdjust="spacingAndGlyphs">Cont1</text>
<path d="M483.70 168.90 H506.10" stroke="#EDB120" stroke-width="1.75"/>
<text x="508.10" y="172.20" font-family="'Liberation Serif', 'DejaVu Serif', serif" font-size="10.6" fill="#0d0d0d" stroke="#0d0d0d" stroke-width="0.28" textLength="28.0" lengthAdjust="spacingAndGlyphs">Cont2</text>
</g>
<text x="129.7" y="251.7" font-family="'Liberation Serif', 'DejaVu Serif', serif" font-size="12" fill="#111">(<tspan font-weight="bold">a</tspan>)</text>
<text x="405.7" y="248.1" font-family="'Liberation Serif', 'DejaVu Serif', serif" font-size="12.7" fill="#111">(<tspan font-weight="bold">b</tspan>)</text>
</svg>
</body></html>
